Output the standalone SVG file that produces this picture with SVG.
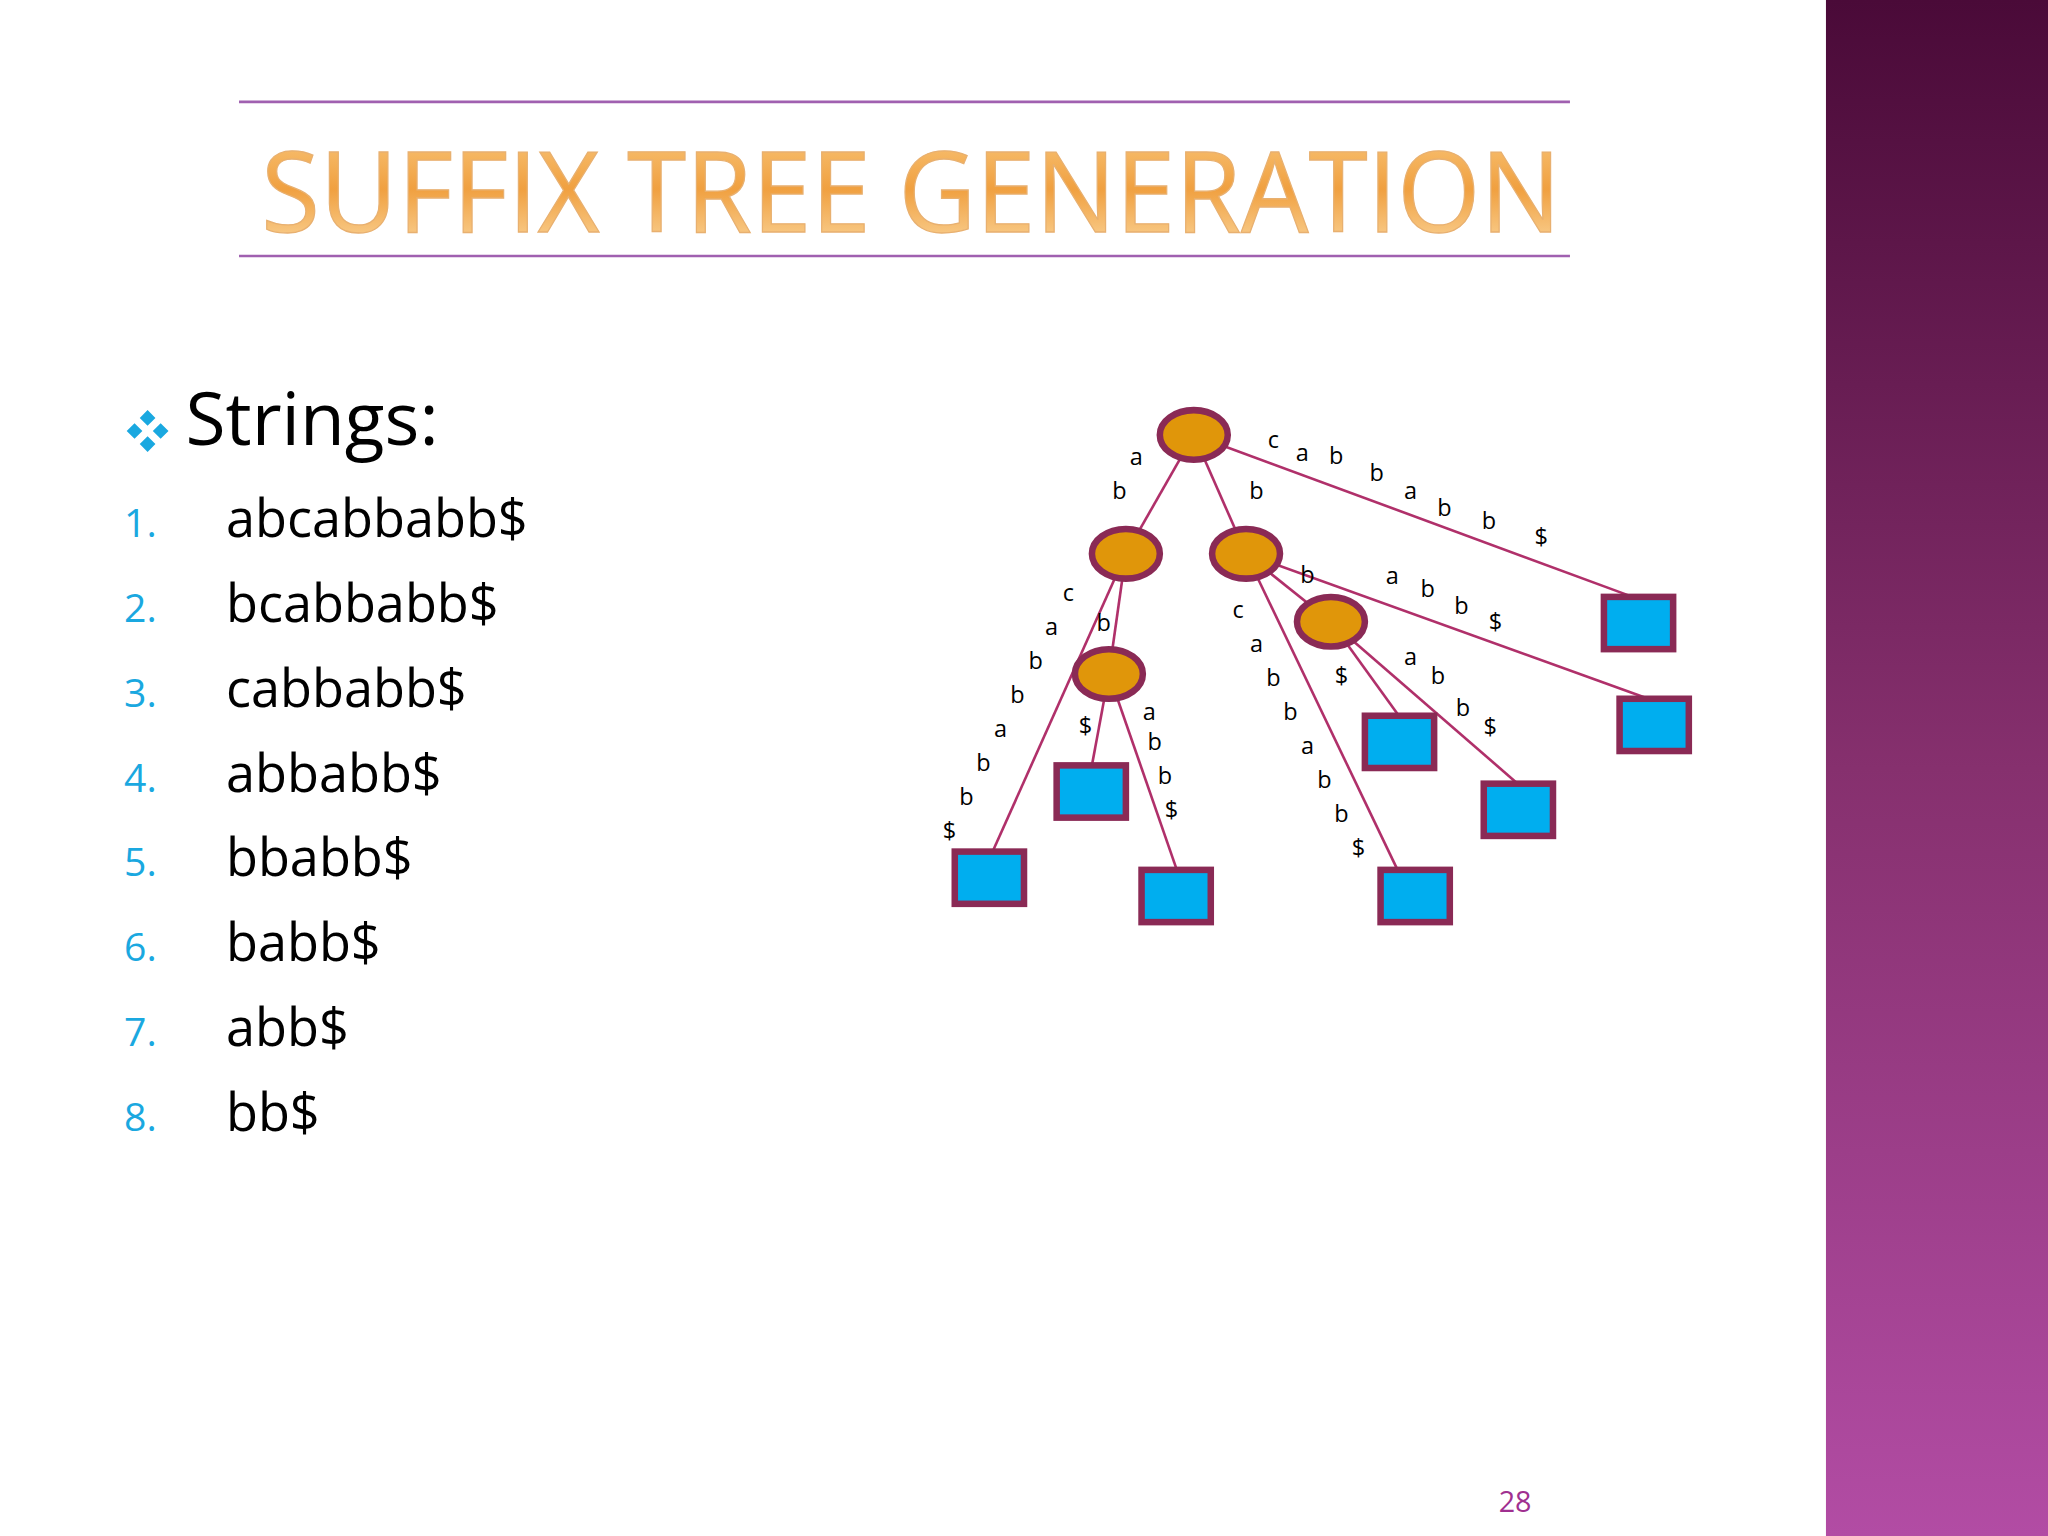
<svg xmlns="http://www.w3.org/2000/svg" width="2048" height="1536" viewBox="0 0 2048 1536">
<defs>
<linearGradient id="band" x1="0" y1="0" x2="0" y2="1"><stop offset="0" stop-color="#4a0a38"/><stop offset="0.5" stop-color="#86306e"/><stop offset="1" stop-color="#b24ca4"/></linearGradient>
<linearGradient id="tg" x1="0" y1="0" x2="0" y2="1"><stop offset="0" stop-color="#fbd08a"/><stop offset="0.5" stop-color="#f0a040"/><stop offset="1" stop-color="#fde2b0"/></linearGradient>
<style>
.e{stroke:#b0306a;stroke-width:2;fill:none}
.n{fill:#e0960a;stroke:#8a2a55;stroke-width:5}
.l{fill:#00aeef;stroke:#8a2a55;stroke-width:5}
.t{font-family:"Open Sans","DejaVu Sans",sans-serif;font-size:18px;fill:#000;text-anchor:middle}
.s{font-family:"Open Sans","DejaVu Sans",sans-serif;font-size:40px;fill:#000}
.num{font-family:"Open Sans","DejaVu Sans",sans-serif;font-size:30px;fill:#1aa8e0}
</style>
</defs>
<rect width="2048" height="1536" fill="#fff"/>
<g transform="scale(1.30612)">
<rect x="1398" y="0" width="170" height="1176" fill="url(#band)"/>
<line x1="183" y1="78" x2="1202" y2="78" stroke="#a060b0" stroke-width="2"/>
<line x1="183" y1="196" x2="1202" y2="196" stroke="#a060b0" stroke-width="2"/>
<text x="200" y="178" textLength="995" lengthAdjust="spacingAndGlyphs" font-family="'Open Sans','DejaVu Sans',sans-serif" font-size="86" fill="url(#tg)" stroke="#e8b070" stroke-width="1">SUFFIX TREE GENERATION</text>
<g id="bullet">
<path d="M113,314 l6,6 -6,6 -6,-6z M103,324 l6,6 -6,6 -6,-6z M123,324 l6,6 -6,6 -6,-6z M113,334 l6,6 -6,6 -6,-6z" fill="#1aa8e0"/>
<text x="142" y="341" font-family="'Open Sans','DejaVu Sans',sans-serif" font-size="56">Strings:</text>
</g>
<g id="list">
<text class="num" x="95" y="411">1.</text><text class="s" x="173" y="411">abcabbabb$</text>
<text class="num" x="95" y="476">2.</text><text class="s" x="173" y="476">bcabbabb$</text>
<text class="num" x="95" y="541">3.</text><text class="s" x="173" y="541">cabbabb$</text>
<text class="num" x="95" y="606">4.</text><text class="s" x="173" y="606">abbabb$</text>
<text class="num" x="95" y="671">5.</text><text class="s" x="173" y="671">bbabb$</text>
<text class="num" x="95" y="736">6.</text><text class="s" x="173" y="736">babb$</text>
<text class="num" x="95" y="801">7.</text><text class="s" x="173" y="801">abb$</text>
<text class="num" x="95" y="866">8.</text><text class="s" x="173" y="866">bb$</text>
</g>
<g id="connectors">
<line class="e" x1="914" y1="333" x2="862" y2="424"/>
<line class="e" x1="914" y1="333" x2="954" y2="424"/>
<line class="e" x1="914" y1="333" x2="1250" y2="457"/>
<line class="e" x1="862" y1="424" x2="760" y2="652"/>
<line class="e" x1="862" y1="424" x2="849" y2="516"/>
<line class="e" x1="849" y1="516" x2="836" y2="586"/>
<line class="e" x1="849" y1="516" x2="901" y2="666"/>
<line class="e" x1="954" y1="424" x2="1019" y2="476"/>
<line class="e" x1="954" y1="424" x2="1070" y2="666"/>
<line class="e" x1="954" y1="424" x2="1262" y2="535"/>
<line class="e" x1="1019" y1="476" x2="1071" y2="548"/>
<line class="e" x1="1019" y1="476" x2="1162" y2="600"/>
</g>
<g id="labels" class="t">
<text x="870" y="356">a</text><text x="857" y="382">b</text>
<text x="962" y="382">b</text>
<text x="975" y="343">c</text><text x="997" y="353">a</text><text x="1023" y="355">b</text><text x="1054" y="368">b</text><text x="1080" y="382">a</text><text x="1106" y="395">b</text><text x="1140" y="405">b</text><text x="1180" y="417">$</text>
<text x="818" y="460">c</text><text x="805" y="486">a</text><text x="793" y="512">b</text><text x="779" y="538">b</text><text x="766" y="564">a</text><text x="753" y="590">b</text><text x="740" y="616">b</text><text x="727" y="642">$</text>
<text x="845" y="483">b</text>
<text x="831" y="562">$</text>
<text x="880" y="551">a</text><text x="884" y="574">b</text><text x="892" y="600">b</text><text x="897" y="626">$</text>
<text x="948" y="473">c</text><text x="962" y="499">a</text><text x="975" y="525">b</text><text x="988" y="551">b</text><text x="1001" y="577">a</text><text x="1014" y="603">b</text><text x="1027" y="629">b</text><text x="1040" y="655">$</text>
<text x="1001" y="446">b</text>
<text x="1066" y="447">a</text><text x="1093" y="457">b</text><text x="1119" y="470">b</text><text x="1145" y="482">$</text>
<text x="1027" y="524">$</text>
<text x="1080" y="509">a</text><text x="1101" y="524">b</text><text x="1120" y="548">b</text><text x="1141" y="563">$</text>
</g>
<g id="root"><ellipse class="n" cx="914" cy="333" rx="26" ry="19"/></g>
<g id="n1"><ellipse class="n" cx="862" cy="424" rx="26" ry="19"/></g>
<g id="n2"><ellipse class="n" cx="954" cy="424" rx="26" ry="19"/></g>
<g id="n3"><ellipse class="n" cx="849" cy="516" rx="26" ry="19"/></g>
<g id="n4"><ellipse class="n" cx="1019" cy="476" rx="26" ry="19"/></g>
<g id="l1"><rect class="l" x="1228" y="457" width="53" height="40"/></g>
<g id="l2"><rect class="l" x="1240" y="535" width="53" height="40"/></g>
<g id="l3"><rect class="l" x="731" y="652" width="53" height="40"/></g>
<g id="l4"><rect class="l" x="809" y="586" width="53" height="40"/></g>
<g id="l5"><rect class="l" x="874" y="666" width="53" height="40"/></g>
<g id="l6"><rect class="l" x="1045" y="548" width="53" height="40"/></g>
<g id="l7"><rect class="l" x="1136" y="600" width="53" height="40"/></g>
<g id="l8"><rect class="l" x="1057" y="666" width="53" height="40"/></g>
<text x="1160" y="1158" text-anchor="middle" font-family="'Open Sans','DejaVu Sans',sans-serif" font-size="22" fill="#a03090">28</text>
</g>
</svg>
